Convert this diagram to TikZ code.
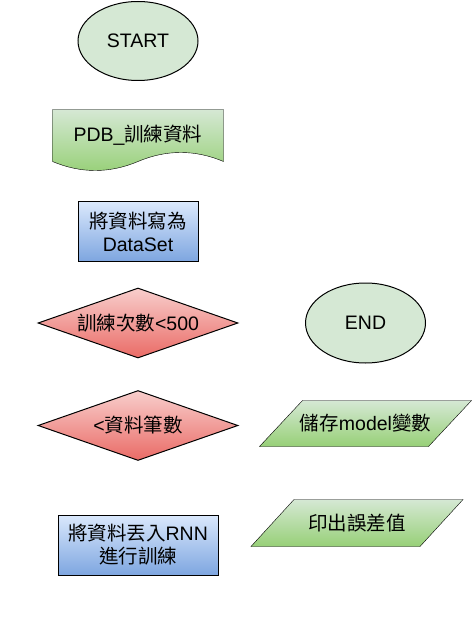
\documentclass[tikz,border=0pt]{standalone}
\usepackage{fontspec}
\setmainfont{Liberation Sans}
\newfontfamily\cjk{Noto Sans CJK TC}
\usetikzlibrary{shapes.geometric,backgrounds}
\definecolor{termgreen}{HTML}{D5E8D4}
\definecolor{iotop}{HTML}{D5E8D4}
\definecolor{iobot}{HTML}{97D077}
\definecolor{proctop}{HTML}{DAE8FC}
\definecolor{procbot}{HTML}{7EA6E0}
\definecolor{dectop}{HTML}{F8CECC}
\definecolor{decbot}{HTML}{EA6B66}
\newcommand{\zh}[1]{{\cjk #1}}

\begin{document}
\begin{tikzpicture}[x=1pt, y=-1pt, line width=1pt, font=\fontsize{19.5}{23}\selectfont,
        terminal/.style={draw, ellipse, fill=termgreen, minimum width=120, minimum height=79, inner sep=0},
        process/.style={draw, align=center, top color=proctop, bottom color=procbot, inner sep=0},
        decision/.style={draw, diamond, shape aspect=2.86, minimum width=200, minimum height=70, inner sep=0, top color=dectop, bottom color=decbot},
        doc/.style={minimum width=170, minimum height=51, inner sep=0},
        io/.style={minimum width=211, minimum height=45, inner sep=0},
        iofill/.style={draw, top color=iotop, bottom color=iobot}]
            \useasboundingbox (0,0) rectangle (472,620);

            \node[terminal] (start) at (138,41) {START};
            \node[doc] (pdb) at (138,135.5) {PDB\_\zh{訓練資料}};
            \node[process, minimum width=120, minimum height=59] (dataset) at (138,231.5) {\zh{將資料寫為}\\DataSet};
            \node[decision] (epoch) at (138,323) {\zh{訓練次數}<500};
            \node[decision] (batch) at (138,425.5) {<\zh{資料筆數}};
            \node[process, minimum width=160, minimum height=60] (train) at (138,545) {\zh{將資料丟入}RNN\\\zh{進行訓練}};
            \node[terminal, minimum height=80] (finish) at (365.5,323) {END};
            \node[io] (save) at (365.5,423.5) {\zh{儲存}model\zh{變數}};
            \node[io, minimum height=46] (err) at (357,523) {\zh{印出誤差值}};

            \begin{scope}[on background layer]
                \draw[iofill] (pdb.north west) -- (pdb.north east) -- (pdb.south east)
                    .. controls +(-28.3,-12) and +(28.3,-12) .. (pdb.south)
                    .. controls +(-28.3,12) and +(28.3,12) .. (pdb.south west) -- cycle;
                \foreach \n in {save,err}
                    \draw[iofill] (\n.south west) -- ([xshift=43pt]\n.north west) -- (\n.north east) -- ([xshift=-43pt]\n.south east) -- cycle;
            \end{scope}
        \end{tikzpicture}
\end{document}
